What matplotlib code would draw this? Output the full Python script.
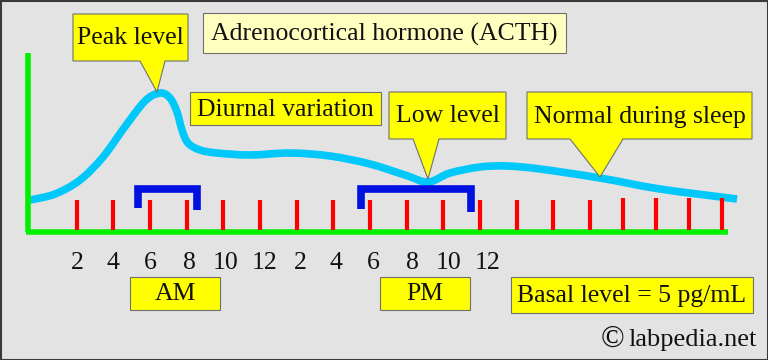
import matplotlib.pyplot as plt
from matplotlib.patches import Polygon, Rectangle, PathPatch
from matplotlib.path import Path

# canvas units = pixels of the 768x360 picture, y grows downward
tick_x = [77, 113, 150, 187, 223, 260, 297, 333, 370, 407, 443, 480,
          517, 553, 590, 623, 656, 689, 722]
tick_top = [200] * 15 + [198] * 4
tick_labels = ["2", "4", "6", "8", "10", "12", "2", "4", "6", "8", "10", "12"]
label_x = [77, 113, 150, 189, 226, 265, 300, 336, 373, 412, 449, 488]

# ACTH curve
curve_x = [30, 55, 80, 103, 124, 145, 160, 170, 177, 182, 188, 200, 217,
           250, 290, 330, 370, 405, 428, 450, 480, 507, 540, 600, 660, 737]
curve_y = [200, 194, 180, 157, 128, 101, 93, 98, 112, 130, 143, 150, 153,
           155, 153, 156, 164, 175, 182, 173, 167, 166, 169, 178, 189, 199]

# brackets: (left, right, top, left_bottom, right_bottom)
brackets = [(138, 197, 189, 208, 210), (361, 471, 189, 209, 212)]

# callouts: text, box (x0, x1, y0, y1), pointer (base left, base right, tip x, tip y)
callouts = [
    ("Peak level", (73, 188, 14, 61), (140, 165, 157, 92)),
    ("Low level", (389, 506, 92, 139), (413, 439, 428, 179)),
    ("Normal during sleep", (527, 752, 92, 139), (570, 623, 600, 177)),
]
boxes = [
    ("Adrenocortical hormone (ACTH)", (203, 566, 13, 53), "#ffffc0"),
    ("Diurnal variation", (190, 381, 92, 125), "#ffff00"),
    ("AM", (130, 220, 277, 310), "#ffff00"),
    ("PM", (380, 470, 277, 310), "#ffff00"),
    ("Basal level = 5 pg/mL", (511, 753, 277, 313), "#ffff00"),
]


def smooth_path(xs, ys):
    # Catmull-Rom through the read points, drawn as cubic Bezier segments
    pts = list(zip(xs, ys))
    verts = [pts[0]]
    codes = [Path.MOVETO]
    for i in range(len(pts) - 1):
        p0 = pts[max(i - 1, 0)]
        p1 = pts[i]
        p2 = pts[i + 1]
        p3 = pts[min(i + 2, len(pts) - 1)]
        c1 = (p1[0] + (p2[0] - p0[0]) / 6, p1[1] + (p2[1] - p0[1]) / 6)
        c2 = (p2[0] - (p3[0] - p1[0]) / 6, p2[1] - (p3[1] - p1[1]) / 6)
        verts += [c1, c2, p2]
        codes += [Path.CURVE4] * 3
    return Path(verts, codes)


serif = "Liberation Serif"
fs = 18.5

fig = plt.figure(figsize=(7.68, 3.6), dpi=100)
fig.patch.set_facecolor("#e3e3e3")
ax = fig.add_axes([0, 0, 1, 1])
ax.set_xlim(0, 768)
ax.set_ylim(360, 0)
ax.axis("off")

# outer frame
ax.add_patch(Rectangle((0.5, 0.5), 767, 359, fill=False, edgecolor="#3a3a3a", linewidth=1.5))

# green axes
ax.plot([28, 28], [53, 232], color="#00f000", linewidth=4, solid_capstyle="butt")
ax.plot([26, 728], [232, 232], color="#00f000", linewidth=4, solid_capstyle="butt")

# red ticks
for x, top in zip(tick_x, tick_top):
    ax.plot([x, x], [top, 230], color="#ff0000", linewidth=3, solid_capstyle="butt")

for x, lab in zip(label_x, tick_labels):
    ax.text(x, 263, lab, ha="center", va="center", fontsize=fs, family=serif, color="#111111")

# blue brackets
for left, right, top, lb, rb in brackets:
    ax.plot([left, left, right, right], [lb, top, top, rb], color="#0010e0",
            linewidth=5.5, solid_joinstyle="miter", solid_capstyle="butt")

# curve
ax.add_patch(PathPatch(smooth_path(curve_x, curve_y), facecolor="none", edgecolor="#00c8fa",
                       linewidth=5.5, capstyle="butt", joinstyle="round"))

for text, (x0, x1, y0, y1), (b0, b1, tx, ty) in callouts:
    verts = [(x0, y0), (x1, y0), (x1, y1), (b1, y1), (tx, ty), (b0, y1), (x0, y1)]
    ax.add_patch(Polygon(verts, closed=True, facecolor="#ffff00", edgecolor="#707070",
                         linewidth=0.8, zorder=5))
    ax.text((x0 + x1) / 2, (y0 + y1) / 2 + 1, text, ha="center", va="center",
            fontsize=fs, family=serif, color="#111111", zorder=6)

for text, (x0, x1, y0, y1), fc in boxes:
    ax.add_patch(Rectangle((x0, y0), x1 - x0, y1 - y0, facecolor=fc, edgecolor="#707070",
                           linewidth=0.8, zorder=5))
    ax.text((x0 + x1) / 2, (y0 + y1) / 2 + 1, text, ha="center", va="center",
            fontsize=fs, family=serif, color="#111111", zorder=6)

ax.text(757, 340, "labpedia.net", ha="right", va="center", fontsize=fs + 0.5,
        family=serif, color="#111111")
ax.text(612, 339, "\u00a9", ha="center", va="center", fontsize=fs + 4,
        family=serif, color="#111111")

fig.savefig("out.png", dpi=100, facecolor=fig.get_facecolor())
